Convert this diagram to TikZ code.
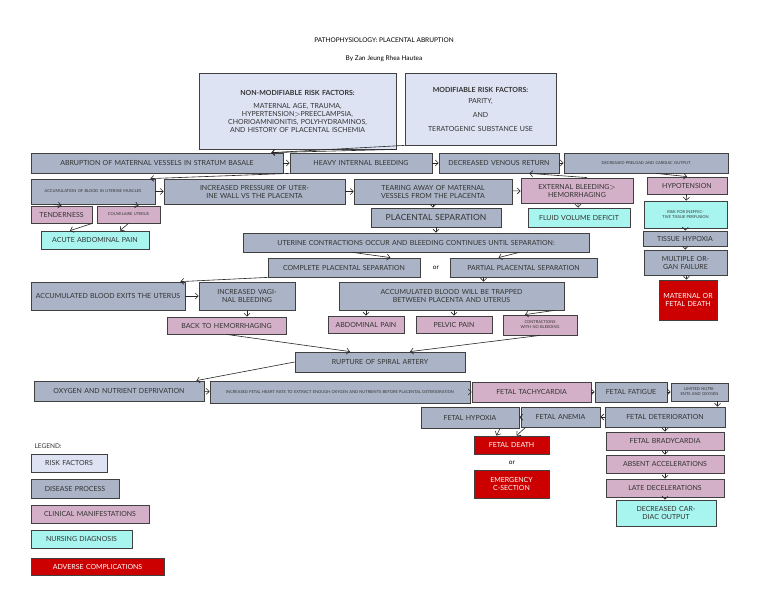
\documentclass[tikz,border=0pt]{standalone}
\usepackage{fontspec}
\setmainfont{Lato}
\usetikzlibrary{arrows.meta}
\definecolor{rk}{HTML}{DDE3F3}
\definecolor{dp}{HTML}{AAB4C6}
\definecolor{cm}{HTML}{D4B0C8}
\definecolor{nd}{HTML}{A8F5EF}
\definecolor{ac}{HTML}{CC0000}
\tikzset{
 bx/.style={draw=black!75,line width=0.8pt,align=center,inner sep=1pt,font=\fontsize{7}{8}\selectfont,text=black!80},
 sRk/.style={bx,fill=rk},sDp/.style={bx,fill=dp},sCm/.style={bx,fill=cm},sNd/.style={bx,fill=nd},
 sAc/.style={bx,fill=ac,text=white},
 tiny/.style={font=\fontsize{4}{5}\selectfont},
 ar/.style={-{Straight Barb[length=3pt,width=6pt]},line width=0.6pt,black!85},
}
\newcommand\bx[7]{\node[#1,minimum width=#4pt,minimum height=#5pt,text width=#4pt-4pt] (#6) at ({#2+#4/2},{#3+#5/2}) {#7};}
\begin{document}
\begin{tikzpicture}[x=1pt,y=-1pt]
\useasboundingbox[fill=white] (0,0) rectangle (768,594);
\node[font=\fontsize{6.5}{7}\selectfont] (t1) at (384,40) {PATHOPHYSIOLOGY: PLACENTAL ABRUPTION};
\node[font=\fontsize{6.5}{7}\selectfont] (t2) at (384,59) {By Zan Jeung Rhea Hautea};
\bx{sRk}{199}{73}{197}{76}{nm}{\textbf{NON-MODIFIABLE RISK FACTORS:}\\[5pt] MATERNAL AGE, TRAUMA, HYPERTENSION$>$PREECLAMPSIA, CHORIOAMNIONITIS, POLYHYDRAMINOS, AND HISTORY OF PLACENTAL ISCHEMIA}
\bx{sRk}{405}{73}{151}{72}{mo}{\textbf{MODIFIABLE RISK FACTORS:}\\[3pt] PARITY,\\[6pt] AND\\[6pt] TERATOGENIC SUBSTANCE USE}
\bx{sDp}{31}{153}{252}{20}{abr}{ABRUPTION OF MATERNAL VESSELS IN STRATUM BASALE}
\bx{sDp}{290}{153}{142}{20}{hib}{HEAVY INTERNAL BLEEDING}
\bx{sDp}{439}{153}{120}{20}{dvr}{DECREASED VENOUS RETURN}
\bx{sDp,tiny}{564}{153}{164}{20}{dpc}{DECREASED PRELOAD AND CARDIAC OUTPUT}
\bx{sDp,tiny}{31}{179}{124}{25}{acc}{ACCUMULATION OF BLOOD IN UTERINE MUSCLES}
\bx{sDp}{164}{179}{181}{25}{ipu}{INCREASED PRESSURE OF UTERINE WALL VS THE PLACENTA}
\bx{sDp}{354}{179}{158}{25}{taw}{TEARING AWAY OF MATERNAL VESSELS FROM THE PLACENTA}
\bx{sCm}{521}{178}{112}{25}{ext}{EXTERNAL BLEEDING$>$ HEMORRHAGING}
\bx{sCm}{647}{177}{80}{17}{hyp}{HYPOTENSION}
\bx{sCm}{31}{206}{61}{17}{ten}{TENDERNESS}
\bx{sCm,tiny}{97}{206}{63}{17}{cou}{COUVELAIRE UTERUS}
\bx{sNd}{41}{231}{108}{18}{ache}{ACUTE ABDOMINAL PAIN}
\bx{sDp,font=\fontsize{8.5}{9}\selectfont}{371}{208}{130}{19}{ps}{PLACENTAL SEPARATION}
\bx{sNd}{528}{208}{102}{19}{fvd}{FLUID VOLUME DEFICIT}
\bx{sNd,tiny}{644}{201}{83}{27}{rite}{RISK FOR INEFFECTIVE TISSUE PERFUSION}
\bx{sDp}{643}{231}{84}{15}{th}{TISSUE HYPOXIA}
\bx{sDp}{644}{250}{83}{25}{mof}{MULTIPLE ORGAN FAILURE}
\bx{sAc}{659}{280}{58}{40}{mfd}{MATERNAL OR FETAL DEATH}
\bx{sDp}{243}{233}{346}{19}{ucb}{UTERINE CONTRACTIONS OCCUR AND BLEEDING CONTINUES UNTIL SEPARATION:}
\bx{sDp}{268}{258}{152}{19}{cps}{COMPLETE PLACENTAL SEPARATION}
\node[font=\fontsize{6.5}{7}\selectfont] (or1) at (436,268) {or};
\bx{sDp}{450}{258}{147}{19}{pps}{PARTIAL PLACENTAL SEPARATION}
\bx{sDp}{31}{282}{154}{28}{abe}{ACCUMULATED BLOOD EXITS THE UTERUS}
\bx{sDp}{199}{282}{96}{28}{ivb}{INCREASED VAGINAL BLEEDING}
\bx{sDp}{339}{282}{225}{28}{abt}{ACCUMULATED BLOOD WILL BE TRAPPED BETWEEN PLACENTA AND UTERUS}
\bx{sCm}{167}{317}{119}{17}{bth}{BACK TO HEMORRHAGING}
\bx{sCm}{328}{316}{76}{17}{ap}{ABDOMINAL PAIN}
\bx{sCm}{416}{316}{76}{17}{pp}{PELVIC PAIN}
\bx{sCm,tiny}{503}{315}{74}{20}{cnb}{CONTRACTIONS WITH NO BLEEDING}
\bx{sDp}{295}{352}{170}{20}{rsa}{RUPTURE OF SPIRAL ARTERY}
\bx{sDp}{34}{381}{170}{20}{ond}{OXYGEN AND NUTRIENT DEPRIVATION}
\bx{sDp,tiny}{210}{381}{260}{22}{ifh}{INCREASED FETAL HEART RATE TO EXTRACT ENOUGH OXYGEN AND NUTRIENTS BEFORE PLACENTAL DETERIORATION}
\bx{sCm}{472}{382}{119}{20}{ft}{FETAL TACHYCARDIA}
\bx{sDp}{595}{382}{72}{20}{ff}{FETAL FATIGUE}
\bx{sDp,tiny}{671}{383}{57}{18}{lno}{LIMITED NUTRIENTS AND OXYGEN}
\bx{sDp}{421}{407}{98}{21}{fh}{FETAL HYPOXIA}
\bx{sDp}{521}{407}{79}{20}{fa}{FETAL ANEMIA}
\bx{sDp}{605}{407}{120}{20}{fd}{FETAL DETERIORATION}
\bx{sAc}{474}{436}{75}{18}{fde}{FETAL DEATH}
\node[font=\fontsize{6.5}{7}\selectfont] (or2) at (512,463) {or};
\bx{sAc}{474}{470}{75}{28}{ecs}{EMERGENCY C-SECTION}
\bx{sCm}{606}{432}{118}{18}{fb}{FETAL BRADYCARDIA}
\bx{sCm}{606}{455}{118}{18}{aa}{ABSENT ACCELERATIONS}
\bx{sCm}{606}{479}{118}{18}{ld}{LATE DECELERATIONS}
\bx{sNd}{616}{500}{100}{26}{dco}{DECREASED CARDIAC OUTPUT}
\node[anchor=west,font=\fontsize{6.5}{7}\selectfont,text=black!80] (lg) at (31,446) {LEGEND:};
\bx{sRk}{31}{454}{76}{18}{l1}{RISK FACTORS}
\bx{sDp}{31}{479}{88}{19}{l2}{DISEASE PROCESS}
\bx{sCm}{31}{505}{118}{18}{l3}{CLINICAL MANIFESTATIONS}
\bx{sNd}{31}{530}{101}{18}{l4}{NURSING DIAGNOSIS}
\bx{sAc}{31}{558}{133}{17}{l5}{ADVERSE COMPLICATIONS}
% arrows
\draw[ar] (nm.south east) -- ([xshift=-12pt]abr.north east);
\draw[ar] (mo.south west) -- ([xshift=-12pt]abr.north east);
\draw[ar] (abr) -- (hib);
\draw[ar] (hib) -- (dvr);
\draw[ar] (dvr) -- (dpc);
\draw[ar] ([xshift=10pt]dpc.south) -- ([xshift=0pt]hyp.north);
\draw[ar] (hyp) -- (rite);
\draw[ar] (rite) -- (th);
\draw[ar] (th) -- (mof);
\draw[ar] (mof) -- (mfd);
\draw[ar] (hib.south west) -- ([xshift=-5pt]acc.north east);
\draw[ar] (acc) -- (ipu);
\draw[ar] (ipu) -- (taw);
\draw[ar] (taw) -- (ext);
\draw[ar] ([xshift=10pt]ext.north) -- ([xshift=-30pt]dvr.south east);
\draw[ar] (ext) -- (fvd);
\draw[ar] ([xshift=-40pt]acc.south) -- (ten.north);
\draw[ar] ([xshift=40pt]acc.south) -- ([xshift=10pt]cou.north);
\draw[ar] (ten.south east) -- ([xshift=-25pt]ache.north);
\draw[ar] (cou.south) -- ([xshift=25pt]ache.north);
\draw[ar] (taw) -- (taw|-ps.north);
\draw[ar] (ps) -- (ps|-ucb.north);
\draw[ar] ([xshift=110pt]ucb.south west) -- ([xshift=-30pt]cps.north east);
\draw[ar] ([xshift=-70pt]ucb.south east) -- ([xshift=-25pt]pps.north);
\draw[ar] (cps.south west) -- ([xshift=-5pt]abe.north east);
\draw[ar] ([xshift=-40pt]pps.south) -- ([xshift=-40pt]pps.south|-abt.north);
\draw[ar] (abe) -- (ivb);
\draw[ar] (ivb) -- (ivb|-bth.north);
\draw[ar] (ap|-abt.south) -- (ap);
\draw[ar] (pp|-abt.south) -- (pp);
\draw[ar] ([xshift=-10pt]abt.south east) -- ([xshift=-15pt]cnb.north);
\draw[ar] (bth.south) -- ([xshift=-30pt]rsa.north);
\draw[ar] (cnb.south) -- ([xshift=30pt]rsa.north);
\draw[ar] (rsa.west) -- ([xshift=-8pt]ond.north east);
\draw[ar] (ond) -- (ifh);
\draw[ar] (ifh) -- (ft);
\draw[ar] (ft) -- (ff);
\draw[ar] (ff) -- (lno);
\draw[ar] ([xshift=18pt]lno.south) -- ([xshift=18pt]lno.south|-fd.north);
\draw[ar] (fd) -- (fa);
\draw[ar] (fa) -- (fh);
\draw[ar] ([xshift=30pt]fh.south) -- ([xshift=-15pt]fde.north);
\draw[ar] ([xshift=-35pt]fa.south) -- ([xshift=5pt]fde.north);
\draw[ar] (fd) -- (fd|-fb.north);
\draw[ar] (fb) -- (aa);
\draw[ar] (aa) -- (ld);
\draw[ar] (ld) -- (ld|-dco.north);
\end{tikzpicture}
\end{document}
